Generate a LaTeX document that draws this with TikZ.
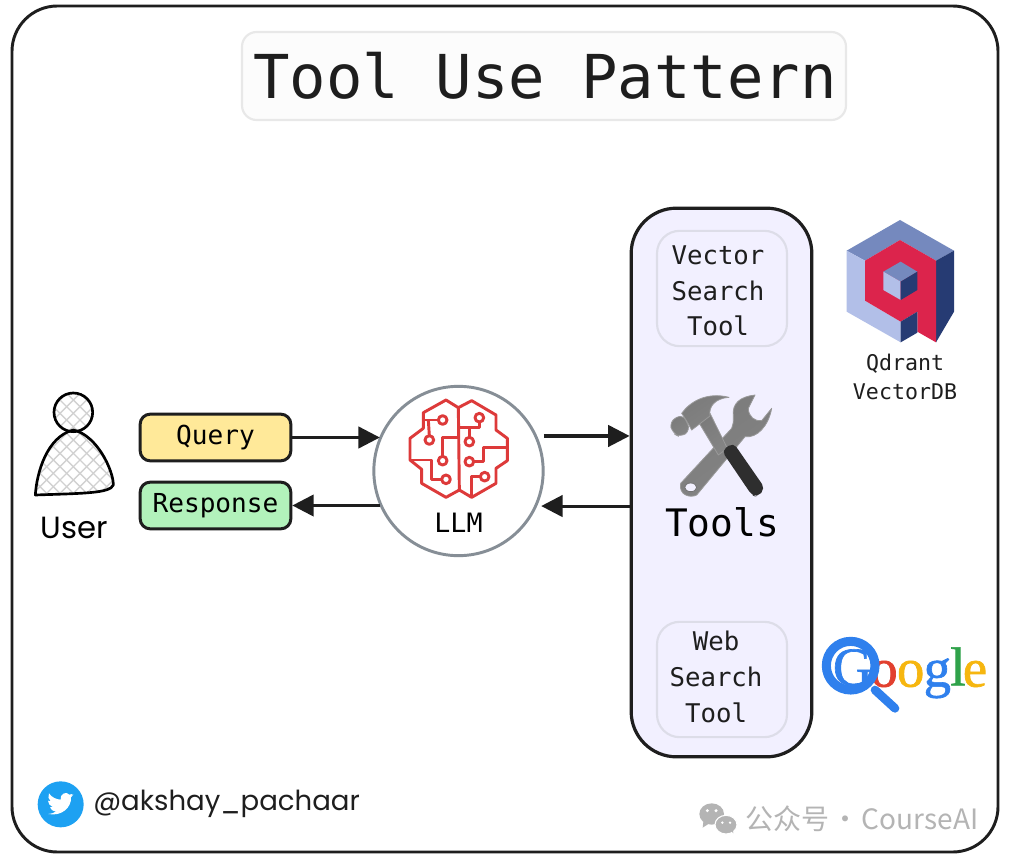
\documentclass[tikz,border=0pt]{standalone}
\usepackage{fontspec}
\usetikzlibrary{arrows.meta}
\setmainfont{DejaVu Sans Mono}
\newfontfamily\handfont{Poppins}
\newfontfamily\cjk{Noto Sans CJK SC}
\newfontfamily\gfont[FakeBold=1.2]{Liberation Serif}
\definecolor{ink}{HTML}{1E1E1E}
\definecolor{toolbg}{HTML}{F2F0FF}
\definecolor{subline}{HTML}{DDDDE8}
\definecolor{brainred}{HTML}{DD3A3A}
\definecolor{qslate}{HTML}{7589BE}
\definecolor{qlight}{HTML}{B2BFE8}
\definecolor{qdark}{HTML}{263B73}
\definecolor{qred}{HTML}{DC244C}
\definecolor{gblue}{HTML}{2F80ED}
\definecolor{wm}{HTML}{B4B4B4}
\definecolor{qfill}{HTML}{FFE999}
\definecolor{rfill}{HTML}{B2F2BB}
\definecolor{circleline}{HTML}{868E96}
\definecolor{twblue}{HTML}{1DA1F2}
\definecolor{gred}{HTML}{E2402F}
\definecolor{gyellow}{HTML}{F6B60F}
\definecolor{ggreen}{HTML}{2FA24A}
\tikzset{
  pill/.style={draw=ink,line width=2.25pt,rounded corners=7.5pt,minimum width=113pt,minimum height=35pt,inner sep=0pt,font=\fontsize{19.6}{22}\selectfont},
  subbox/.style={draw=subline,line width=1.6pt,rounded corners=17pt,minimum width=97.5pt,minimum height=86.5pt,inner sep=0pt},
  txt/.style={inner sep=0pt,text=ink},
  multi/.style={txt,align=center,font=\fontsize{19.3}{26.8}\selectfont},
  flow/.style={draw=ink,line width=2.3pt,-{Triangle[length=16pt,width=16pt]}},
  brainline/.style={draw=brainred,line width=2.2pt,line join=round},
  hatchline/.style={draw=black!18,line width=1pt},
  glet/.style={inner sep=0pt,font=\gfont\fontsize{41}{41}\selectfont},
  metal/.style={left color=black!52,middle color=black!10,right color=black!48,draw=black!40,line width=.6pt,line join=round,shading angle=35}
}
\begin{document}
\begin{tikzpicture}[x=0.75pt,y=-0.75pt]
\useasboundingbox (0,0) rectangle (1009,859);
\fill[white] (0,0) rectangle (1009,859);
% frame
\node[draw=ink,line width=2.2pt,rounded corners=34pt,minimum width=739.5pt,minimum height=634.5pt,inner sep=0pt] (frame) at (505,429) {};
% title
\node[draw=black!9,fill=black!1,line width=1.6pt,rounded corners=11pt,minimum width=453pt,minimum height=66pt,inner sep=0pt,text=ink,font=\fontsize{45.4}{50}\selectfont] (title) at (544,76) {\hspace*{1.5pt}Tool Use Pattern};
% tools panel
\node[draw=ink,fill=toolbg,line width=2.4pt,rounded corners=34pt,minimum width=135.5pt,minimum height=411.5pt,inner sep=0pt] (tools) at (721.5,482.5) {};
\node[subbox] (vbox) at (722,288.5) {};
\node[subbox] (wbox) at (722,679.5) {};
\node[multi] (vtext) at (718,291) {Vector\\Search\\Tool};
\node[multi] (wtext) at (716,677) {Web\\Search\\Tool};
\node[txt,font=\fontsize{28.4}{32}\selectfont,text=black] (toolslabel) at (722,522) {Tools};
% pills
\node[pill,fill=qfill] (query) at (215.5,437.5) {Query};
\node[pill,fill=rfill] (response) at (215.5,505.5) {Response};
% LLM
\node[circle,draw=circleline,fill=white,line width=2.2pt,minimum size=127pt,inner sep=0pt] (llm) at (458.5,471) {};
\node[txt,font=\fontsize{20}{24}\selectfont,text=black] (llmlabel) at (458.5,523) {LLM};
% connectors
\draw[flow] (query.east) -- (query.east -| llm.156);
\draw[flow] (response.east -| llm.204) -- (response.east);
\draw[flow,shorten <=5pt] (llm.24) -- (llm.24 -| tools.west);
\draw[flow,shorten >=3pt] (tools.west |- llm.-24) -- (llm.-24);
% brain
\begin{scope}[shift={(370,380)},x=0.25pt,y=-0.25pt]
\draw[brainline] (265,83) -- (228,60) -- (160,98) -- (160,145) -- (120,175) -- (120,240) -- (155,268) -- (155,310) -- (228,352) -- (268,330) -- (305,352) -- (378,310) -- (378,265) -- (412,242) -- (412,175) -- (378,150) -- (378,105) -- (305,62) -- cycle;
\draw[brainline] (265,83) -- (268,330);
\draw[brainline] (160,120) -- (205,120);
\draw[brainline] (218,120) circle (13);
\draw[brainline] (175,120) -- (178,167);
\draw[brainline] (178,180) circle (13);
\draw[brainline] (328,113) circle (13);
\draw[brainline] (328,126) -- (328,143) -- (265,143);
\draw[brainline] (298,143) -- (298,172);
\draw[brainline] (298,185) circle (13);
\draw[brainline] (265,172) -- (218,172) -- (218,229);
\draw[brainline] (218,242) circle (13);
\draw[brainline] (120,240) -- (185,240) -- (185,298) -- (215,298);
\draw[brainline] (228,298) circle (13);
\draw[brainline] (412,203) -- (340,203) -- (340,245) -- (311,245);
\draw[brainline] (298,245) circle (13);
\draw[brainline] (305,352) -- (305,290) -- (331,290);
\draw[brainline] (344,290) circle (13);
\end{scope}
% user
\begin{scope}[shift={(20,380)},x=0.25pt,y=-0.25pt]
\begin{scope}
\clip (46,345) .. controls (50,280) and (80,170) .. (160,150) .. controls (230,165) and (280,270) .. (280,315) .. controls (270,340) and (190,340) .. (46,345) -- cycle (160,97) circle (58);
\foreach \k in {-300,-260,...,500} {
  \draw[hatchline] (\k,0) -- (\k+400,400);
  \draw[hatchline] (\k,400) -- (\k+400,0);
}
\end{scope}
\draw[draw=black,line width=2pt,line join=round] (46,345) .. controls (50,280) and (80,170) .. (160,150) .. controls (230,165) and (280,270) .. (280,315) .. controls (270,340) and (190,340) .. (46,345) -- cycle;
\draw[draw=black,line width=2pt] (160,97) circle (58);
\end{scope}
\node[txt,font=\handfont\fontsize{23}{26}\selectfont,text=black] (userlabel) at (74,528) {User};
% tools icon
\begin{scope}[shift={(650,380)},x=0.25pt,y=-0.25pt]
\shade[metal] (315,45) .. controls (270,50) and (245,70) .. (250,110) .. controls (250,125) and (250,135) .. (245,145) -- (92,310) .. controls (85,345) and (120,355) .. (140,345) -- (285,170) .. controls (320,175) and (355,140) .. (365,85) -- (335,122) .. controls (315,125) and (295,110) .. (295,85) -- cycle;
\fill[toolbg,draw=black!55,line width=.6pt] (122,322) ellipse (18 and 13);
\shade[metal] (145,125) -- (180,100) -- (232,205) -- (205,225) -- cycle;
\fill[black!82,rounded corners=4pt] (215,212) -- (250,188) -- (345,325) -- (322,352) -- (305,345) -- cycle;
\shade[metal] (95,100) .. controls (120,65) and (170,35) .. (237,52) .. controls (195,55) and (175,80) .. (180,108) -- (125,150) .. controls (115,130) and (105,115) .. (95,100) -- cycle;
\shade[metal,rounded corners=5pt] (58,125) -- (98,102) -- (122,150) -- (92,172) -- (68,160) -- cycle;
\end{scope}
% qdrant
\begin{scope}[shift={(830,210)},x=0.25pt,y=-0.25pt]
\fill[qslate] (210,30) -- (372,122) -- (318,152) -- (210,90) -- (105,152) -- (50,122) -- cycle;
\fill[qlight] (50,122) -- (105,152) -- (105,272) -- (212,335) -- (212,397) -- (50,305) -- cycle;
\fill[qdark] (318,152) -- (372,122) -- (372,305) -- (318,397) -- cycle;
\fill[qred] (105,152) -- (210,90) -- (318,152) -- (318,397) -- (262,365) -- (262,305) -- (212,335) -- (105,272) -- cycle;
\fill[qslate] (160,185) -- (212,155) -- (262,185) -- (212,215) -- cycle;
\fill[qlight] (160,185) -- (212,215) -- (212,270) -- (160,240) -- cycle;
\fill[qdark] (212,215) -- (262,185) -- (262,240) -- (212,270) -- cycle;
\fill[qdark] (212,335) -- (262,305) -- (262,368) -- (212,397) -- cycle;
\end{scope}
\node[txt,align=center,font=\fontsize{16.2}{22}\selectfont] (qlabel) at (905,377) {Qdrant\\VectorDB};
% google
\begin{scope}[shift={(810,625)},x=0.25pt,y=-0.25pt]
\node[glet,text=gred] (go1) at (222,147) {o};
\node[glet,text=gyellow] (go2) at (302,147) {o};
\node[glet,text=gblue] (gg) at (382,160) {g};
\node[glet,text=ggreen] (gl) at (444,124) {l};
\node[glet,text=gyellow] (ge) at (495,147) {e};
\fill[white] (122,122) circle (75);
\node[glet,text=gblue] (gG) at (128,128) {G};
\draw[gblue,line width=6.5pt,line cap=round] (195,195) -- (255,250);
\draw[gblue,line width=6.8pt] (122,122) circle (73);
\end{scope}
% twitter
\begin{scope}[shift={(20,770)},x=0.25pt,y=-0.25pt]
\fill[twblue] (122,103) circle (69);
\fill[white] (160,74) -- (153,82) .. controls (155,112) and (125,140) .. (85,132) .. controls (95,132) and (103,128) .. (108,124) .. controls (98,124) and (92,118) .. (90,112) -- (98,111) .. controls (90,108) and (84,100) .. (84,92) -- (92,94) .. controls (85,88) and (83,78) .. (87,70) .. controls (95,82) and (108,88) .. (122,89) .. controls (118,72) and (140,62) .. (148,74) -- (158,72) -- (152,80) -- cycle;
\end{scope}
\node[txt,anchor=west,font=\handfont\fontsize{20.7}{26}\selectfont] (handle) at (93,804) {@akshay\_pachaar};
% wechat watermark
\begin{scope}[shift={(690,790)},x=0.25pt,y=-0.25pt]
\fill[wm] (65,72) ellipse (37 and 32);
\fill[wm] (40,95) -- (38,113) -- (58,100) -- cycle;
\fill[wm,draw=white,line width=.8pt] (108,104) ellipse (33 and 28);
\fill[wm] (122,122) -- (130,130) -- (128,115) -- cycle;
\fill[white] (52,62) circle (5) (78,62) circle (5) (97,98) circle (4) (120,98) circle (4);
\end{scope}
\node[txt,anchor=west,text=wm,font=\cjk\fontsize{21}{24}\selectfont] (mark) at (745,819) {公众号\hspace{-3pt} · \hspace{-3pt}CourseAI};
\end{tikzpicture}
\end{document}
